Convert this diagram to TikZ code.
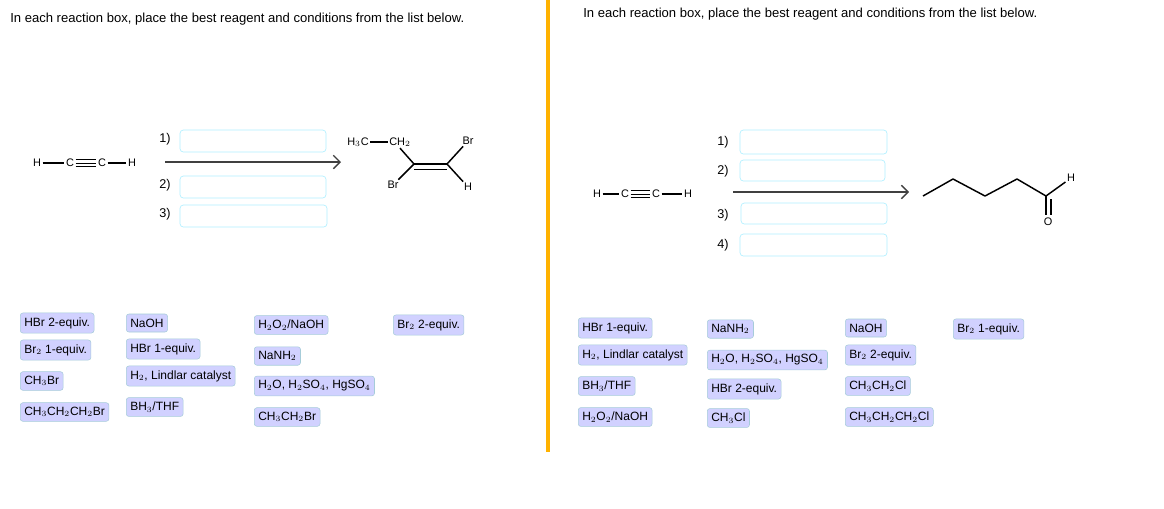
\documentclass[tikz,border=0pt]{standalone}
\usepackage{fontspec}
\setmainfont{Liberation Sans}
\usetikzlibrary{arrows.meta}
\begin{document}
\begin{tikzpicture}[x=0.75pt,y=-0.75pt,
  chip/.style={draw=blue!25!cyan!40!gray!50, fill=blue!18!white, rounded corners=2pt, anchor=west, font=\fontsize{9}{10}\selectfont, inner xsep=3pt, minimum height=13.5pt},
  ans/.style={draw=blue!20!cyan!30, rounded corners=2.5pt, line width=0.5pt},
  hd/.style={font=\fontsize{9.8}{11}\selectfont, anchor=west, inner sep=0pt},
  atom/.style={font=\fontsize{8.2}{9}\selectfont, inner sep=1pt},
  lb/.style={font=\fontsize{9.5}{10}\selectfont, inner sep=0pt},
  bd/.style={line width=1.1pt},
  arr/.style={line width=1pt, draw=black!75, -{Straight Barb[length=5pt,width=10pt]}}]
\useasboundingbox (0,0) rectangle (1164,508);
\fill[white] (0,0) rectangle (1164,508);
\fill[orange!60!yellow] (546,0) rectangle (550,452);
\node[hd] (h1) at (10,19) {In each reaction box, place the best reagent and conditions from the list below.};
\node[hd] (h2) at (583,14) {In each reaction box, place the best reagent and conditions from the list below.};
% left reactant
\node[atom] (a1) at (37,163) {H};
\node[atom] (a2) at (70,163) {C};
\node[atom] (a3) at (102,163) {C};
\node[atom] (a4) at (132,163) {H};
\draw[bd] (a1)--(a2) (a3)--(a4);
\draw[line width=0.6pt] (a2.east)--(a3.west) ([yshift=2.5pt]a2.east)--([yshift=2.5pt]a3.west) ([yshift=-2.5pt]a2.east)--([yshift=-2.5pt]a3.west);
% left boxes
\draw[ans] (180,130) rectangle (326,152);
\draw[ans] (180,176) rectangle (326,198);
\draw[ans] (180,205) rectangle (327,227);
\node[lb] (l1) at (165,139) {1)};
\node[lb] (l2) at (165,185) {2)};
\node[lb] (l3) at (165,214) {3)};
\coordinate (arL1) at (165,162); \coordinate (arL2) at (341,162);
\draw[arr] (arL1)--(arL2);
% left product
\node[atom] (p1) at (358,142) {H$_3$C};
\node[atom] (p2) at (400,142) {CH$_2$};
\draw[bd] (p1)--(p2);
\coordinate (c1) at (414,164); \coordinate (c2) at (447,164);
\node[atom] (pb1) at (393,185) {Br};
\node[atom] (pb2) at (468,141) {Br};
\node[atom] (ph) at (468,187) {H};
\draw[bd] (p2.south)--(c1) (pb1)--(c1) (c2)--(pb2) (c2)--(ph);
\draw[bd] (c1)--(c2) ([yshift=-4pt]c1)--([yshift=-4pt]c2);
% right reactant
\node[atom] (b1) at (597,194) {H};
\node[atom] (b2) at (625,194) {C};
\node[atom] (b3) at (656,194) {C};
\node[atom] (b4) at (688,194) {H};
\draw[bd] (b1)--(b2) (b3)--(b4);
\draw[line width=0.6pt] (b2.east)--(b3.west) ([yshift=2.5pt]b2.east)--([yshift=2.5pt]b3.west) ([yshift=-2.5pt]b2.east)--([yshift=-2.5pt]b3.west);
\draw[ans] (740,130) rectangle (887,154);
\draw[ans] (740,160) rectangle (885,181);
\draw[ans] (741,203) rectangle (887,224);
\draw[ans] (740,234) rectangle (887,256);
\node[lb] (r1) at (723,142) {1)};
\node[lb] (r2) at (723,171) {2)};
\node[lb] (r3) at (723,215) {3)};
\node[lb] (r4) at (723,245) {4)};
\coordinate (arR1) at (733,192); \coordinate (arR2) at (909,192);
\draw[arr] (arR1)--(arR2);
% aldehyde
\node[atom] (oh) at (1071,178) {H};
\node[atom] (oo) at (1048,222) {O};
\draw[bd, line join=round] (923,196)--(953,179)--(985,196)--(1017,179)--(1046,196)--(oh);
\draw[bd] (1046,196)--(1046,215);
\draw[bd] (1051,199)--(1051,215);
% left chips
\node[chip] (k1) at (20,323) {HBr 2-equiv.};
\node[chip] (k2) at (20,350) {Br$_2$ 1-equiv.};
\node[chip] (k3) at (20,381) {CH$_3$Br};
\node[chip] (k4) at (20,412) {CH$_3$CH$_2$CH$_2$Br};
\node[chip] (k5) at (126,323) {NaOH};
\node[chip] (k6) at (126,349) {HBr 1-equiv.};
\node[chip] (k7) at (126,376) {H$_2$, Lindlar catalyst};
\node[chip] (k8) at (126,407) {BH$_3$/THF};
\node[chip] (k9) at (254,325) {H$_2$O$_2$/NaOH};
\node[chip] (k10) at (254,356) {NaNH$_2$};
\node[chip] (k11) at (254,386) {H$_2$O, H$_2$SO$_4$, HgSO$_4$};
\node[chip] (k12) at (254,417) {CH$_3$CH$_2$Br};
\node[chip] (k13) at (393,325) {Br$_2$ 2-equiv.};
% right chips
\node[chip] (m1) at (578,328) {HBr 1-equiv.};
\node[chip] (m2) at (578,355) {H$_2$, Lindlar catalyst};
\node[chip] (m3) at (578,386) {BH$_3$/THF};
\node[chip] (m4) at (578,417) {H$_2$O$_2$/NaOH};
\node[chip] (m5) at (707,329) {NaNH$_2$};
\node[chip] (m6) at (707,360) {H$_2$O, H$_2$SO$_4$, HgSO$_4$};
\node[chip] (m7) at (707,389) {HBr 2-equiv.};
\node[chip] (m8) at (707,418) {CH$_3$Cl};
\node[chip] (m9) at (845,328) {NaOH};
\node[chip] (m10) at (845,355) {Br$_2$ 2-equiv.};
\node[chip] (m11) at (845,386) {CH$_3$CH$_2$Cl};
\node[chip] (m12) at (845,417) {CH$_3$CH$_2$CH$_2$Cl};
\node[chip] (m13) at (953,329) {Br$_2$ 1-equiv.};
\end{tikzpicture}
\end{document}
